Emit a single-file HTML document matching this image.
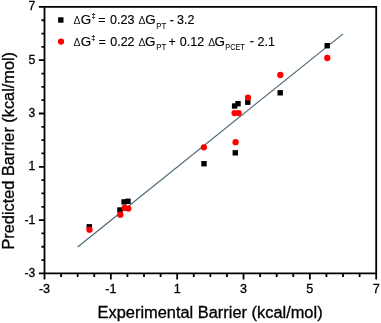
<!DOCTYPE html>
<html><head><meta charset="utf-8"><style>
html,body{margin:0;padding:0;background:#fff;}
svg{display:block;}
text{font-family:"Liberation Sans",Arial,sans-serif;fill:#000;stroke:#000;stroke-width:0.3px;}
text.d{stroke-width:0;fill:#111;}
text.l{stroke-width:0.15px;}
text.s{stroke-width:0.05px;}
</style></head><body>
<svg width="381" height="323" viewBox="0 0 381 323">
<rect width="381" height="323" fill="#fff"/>
<path d="M44.50 6.90 H376.20 V273.40 H44.50 Z" fill="none" stroke="#000" stroke-width="1.8" stroke-linejoin="miter"/>
<path d="M44.50 273.40 V279.60 M44.50 273.40 H38.90 M61.09 273.40 V277.00 M44.50 260.07 H41.50 M77.67 273.40 V277.00 M44.50 246.75 H41.50 M94.25 273.40 V277.00 M44.50 233.42 H41.50 M110.84 273.40 V279.60 M44.50 220.10 H38.90 M127.43 273.40 V277.00 M44.50 206.78 H41.50 M144.01 273.40 V277.00 M44.50 193.45 H41.50 M160.59 273.40 V277.00 M44.50 180.12 H41.50 M177.18 273.40 V279.60 M44.50 166.80 H38.90 M193.77 273.40 V277.00 M44.50 153.47 H41.50 M210.35 273.40 V277.00 M44.50 140.15 H41.50 M226.94 273.40 V277.00 M44.50 126.83 H41.50 M243.52 273.40 V279.60 M44.50 113.50 H38.90 M260.11 273.40 V277.00 M44.50 100.17 H41.50 M276.69 273.40 V277.00 M44.50 86.85 H41.50 M293.27 273.40 V277.00 M44.50 73.53 H41.50 M309.86 273.40 V279.60 M44.50 60.20 H38.90 M326.44 273.40 V277.00 M44.50 46.87 H41.50 M343.03 273.40 V277.00 M44.50 33.55 H41.50 M359.62 273.40 V277.00 M44.50 20.23 H41.50 M376.20 273.40 V279.60 M44.50 6.90 H38.90" stroke="#000" stroke-width="1.8" fill="none"/>
<text x="44.50" y="292.6" text-anchor="middle" font-size="12.6">-3</text>
<text x="35.4" y="276.90" text-anchor="end" font-size="12.2">-3</text>
<text x="110.84" y="292.6" text-anchor="middle" font-size="12.6">-1</text>
<text x="35.4" y="223.60" text-anchor="end" font-size="12.2">-1</text>
<text x="177.18" y="292.6" text-anchor="middle" font-size="12.6">1</text>
<text x="35.4" y="170.30" text-anchor="end" font-size="12.2">1</text>
<text x="243.52" y="292.6" text-anchor="middle" font-size="12.6">3</text>
<text x="35.4" y="117.00" text-anchor="end" font-size="12.2">3</text>
<text x="309.86" y="292.6" text-anchor="middle" font-size="12.6">5</text>
<text x="35.4" y="63.70" text-anchor="end" font-size="12.2">5</text>
<text x="376.20" y="292.6" text-anchor="middle" font-size="12.6">7</text>
<text x="35.4" y="10.40" text-anchor="end" font-size="12.2">7</text>
<line x1="77.67" y1="247.05" x2="343.03" y2="33.85" stroke="#4b6676" stroke-width="1.2"/>
<rect x="86.60" y="224.10" width="5.4" height="5.4" fill="#000"/>
<rect x="117.20" y="207.30" width="5.4" height="5.4" fill="#000"/>
<rect x="121.40" y="199.20" width="5.4" height="5.4" fill="#000"/>
<rect x="125.30" y="198.60" width="5.4" height="5.4" fill="#000"/>
<rect x="201.30" y="161.00" width="5.4" height="5.4" fill="#000"/>
<rect x="232.60" y="150.10" width="5.4" height="5.4" fill="#000"/>
<rect x="231.90" y="103.30" width="5.4" height="5.4" fill="#000"/>
<rect x="235.30" y="101.00" width="5.4" height="5.4" fill="#000"/>
<rect x="245.10" y="99.50" width="5.4" height="5.4" fill="#000"/>
<rect x="277.50" y="90.10" width="5.4" height="5.4" fill="#000"/>
<rect x="324.50" y="43.00" width="5.4" height="5.4" fill="#000"/>
<circle cx="89.50" cy="229.70" r="3.15" fill="#ff0000"/>
<circle cx="120.30" cy="214.70" r="3.15" fill="#ff0000"/>
<circle cx="124.60" cy="207.90" r="3.15" fill="#ff0000"/>
<circle cx="128.30" cy="208.60" r="3.15" fill="#ff0000"/>
<circle cx="203.90" cy="147.30" r="3.15" fill="#ff0000"/>
<circle cx="235.60" cy="142.20" r="3.15" fill="#ff0000"/>
<circle cx="234.60" cy="113.10" r="3.15" fill="#ff0000"/>
<circle cx="238.60" cy="113.10" r="3.15" fill="#ff0000"/>
<circle cx="248.00" cy="97.60" r="3.15" fill="#ff0000"/>
<circle cx="280.30" cy="75.00" r="3.15" fill="#ff0000"/>
<circle cx="327.30" cy="58.00" r="3.15" fill="#ff0000"/>
<rect x="58.10" y="17.30" width="5.4" height="5.4" fill="#000"/>
<circle cx="61" cy="41.6" r="3.15" fill="#ff0000"/>
<text x="73.59" y="24.20" font-size="10.4" class="d">&#916;</text>
<text x="80.73" y="24.20" font-size="13.4" class="l">G</text>
<text x="91.50" y="17.60" font-size="7.5" class="l">&#8225;</text>
<text x="98.29" y="24.20" font-size="12.5" class="l">=</text>
<text x="110.01" y="24.20" font-size="12.5" class="l">0.23</text>
<text x="138.59" y="24.20" font-size="10.4" class="d">&#916;</text>
<text x="145.33" y="24.20" font-size="13.4" class="l">G</text>
<text x="156.36" y="29.00" font-size="9.0" textLength="10.01" lengthAdjust="spacingAndGlyphs" class="s">PT</text>
<text x="169.75" y="24.20" font-size="12.5" class="l">-</text>
<text x="177.12" y="24.20" font-size="12.5" class="l">3.2</text>
<text x="73.59" y="46.10" font-size="10.4" class="d">&#916;</text>
<text x="80.83" y="46.10" font-size="13.4" class="l">G</text>
<text x="91.20" y="39.50" font-size="7.5" class="l">&#8225;</text>
<text x="98.49" y="46.10" font-size="12.5" class="l">=</text>
<text x="110.21" y="46.10" font-size="12.5" class="l">0.22</text>
<text x="138.59" y="46.10" font-size="10.4" class="d">&#916;</text>
<text x="144.93" y="46.10" font-size="13.4" class="l">G</text>
<text x="156.36" y="50.00" font-size="9.0" textLength="10.01" lengthAdjust="spacingAndGlyphs" class="s">PT</text>
<text x="168.59" y="46.10" font-size="12.5" class="l">+</text>
<text x="179.81" y="46.10" font-size="12.5" class="l">0.12</text>
<text x="208.29" y="46.10" font-size="10.4" class="d">&#916;</text>
<text x="214.53" y="46.10" font-size="13.4" class="l">G</text>
<text x="225.36" y="50.00" font-size="9.0" textLength="19.37" lengthAdjust="spacingAndGlyphs" class="s">PCET</text>
<text x="249.65" y="45.30" font-size="12.5" class="l">-</text>
<text x="257.57" y="46.10" font-size="12.5" class="l">2.1</text>
<text x="97.6" y="318.4" font-size="15.8" textLength="225" lengthAdjust="spacingAndGlyphs">Experimental Barrier (kcal/mol)</text>
<text transform="translate(13.6 249.5) rotate(-90)" font-size="16" textLength="197.5" lengthAdjust="spacingAndGlyphs">Predicted Barrier (kcal/mol)</text>
</svg>
</body></html>
